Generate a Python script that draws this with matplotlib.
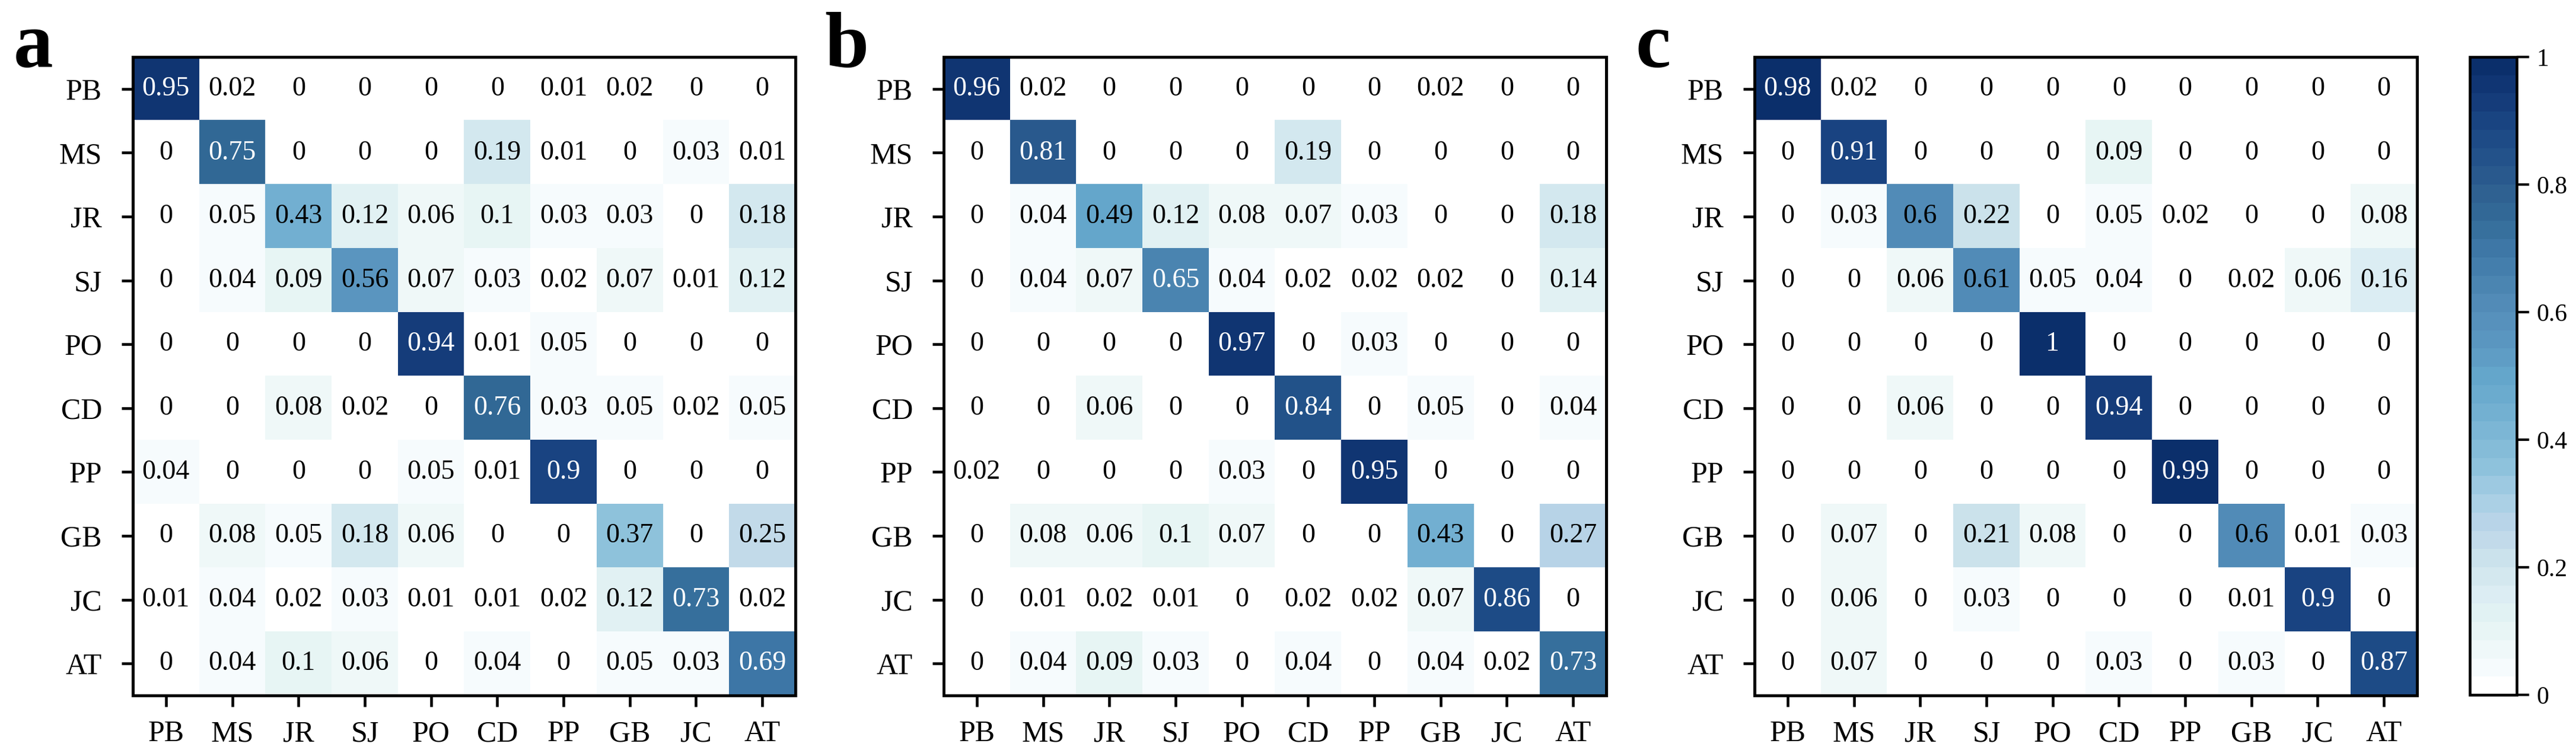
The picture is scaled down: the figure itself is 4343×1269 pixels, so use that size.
import numpy as np
import matplotlib
matplotlib.use("Agg")
import matplotlib.pyplot as plt
from matplotlib.colors import LinearSegmentedColormap

# class names (same order for rows and columns)
classes = ["PB", "MS", "JR", "SJ", "PO", "CD", "PP", "GB", "JC", "AT"]
panel_letters = ["a", "b", "c"]

# confusion matrix, panel a
cm_a = [
    [0.95, 0.02, 0, 0, 0, 0, 0.01, 0.02, 0, 0],
    [0, 0.75, 0, 0, 0, 0.19, 0.01, 0, 0.03, 0.01],
    [0, 0.05, 0.43, 0.12, 0.06, 0.1, 0.03, 0.03, 0, 0.18],
    [0, 0.04, 0.09, 0.56, 0.07, 0.03, 0.02, 0.07, 0.01, 0.12],
    [0, 0, 0, 0, 0.94, 0.01, 0.05, 0, 0, 0],
    [0, 0, 0.08, 0.02, 0, 0.76, 0.03, 0.05, 0.02, 0.05],
    [0.04, 0, 0, 0, 0.05, 0.01, 0.9, 0, 0, 0],
    [0, 0.08, 0.05, 0.18, 0.06, 0, 0, 0.37, 0, 0.25],
    [0.01, 0.04, 0.02, 0.03, 0.01, 0.01, 0.02, 0.12, 0.73, 0.02],
    [0, 0.04, 0.1, 0.06, 0, 0.04, 0, 0.05, 0.03, 0.69],
]

# confusion matrix, panel b
cm_b = [
    [0.96, 0.02, 0, 0, 0, 0, 0, 0.02, 0, 0],
    [0, 0.81, 0, 0, 0, 0.19, 0, 0, 0, 0],
    [0, 0.04, 0.49, 0.12, 0.08, 0.07, 0.03, 0, 0, 0.18],
    [0, 0.04, 0.07, 0.65, 0.04, 0.02, 0.02, 0.02, 0, 0.14],
    [0, 0, 0, 0, 0.97, 0, 0.03, 0, 0, 0],
    [0, 0, 0.06, 0, 0, 0.84, 0, 0.05, 0, 0.04],
    [0.02, 0, 0, 0, 0.03, 0, 0.95, 0, 0, 0],
    [0, 0.08, 0.06, 0.1, 0.07, 0, 0, 0.43, 0, 0.27],
    [0, 0.01, 0.02, 0.01, 0, 0.02, 0.02, 0.07, 0.86, 0],
    [0, 0.04, 0.09, 0.03, 0, 0.04, 0, 0.04, 0.02, 0.73],
]

# confusion matrix, panel c
cm_c = [
    [0.98, 0.02, 0, 0, 0, 0, 0, 0, 0, 0],
    [0, 0.91, 0, 0, 0, 0.09, 0, 0, 0, 0],
    [0, 0.03, 0.6, 0.22, 0, 0.05, 0.02, 0, 0, 0.08],
    [0, 0, 0.06, 0.61, 0.05, 0.04, 0, 0.02, 0.06, 0.16],
    [0, 0, 0, 0, 1, 0, 0, 0, 0, 0],
    [0, 0, 0.06, 0, 0, 0.94, 0, 0, 0, 0],
    [0, 0, 0, 0, 0, 0, 0.99, 0, 0, 0],
    [0, 0.07, 0, 0.21, 0.08, 0, 0, 0.6, 0.01, 0.03],
    [0, 0.06, 0, 0.03, 0, 0, 0, 0.01, 0.9, 0],
    [0, 0.07, 0, 0, 0, 0.03, 0, 0.03, 0, 0.87],
]

cbar_ticks = [0, 0.2, 0.4, 0.6, 0.8, 1]

# палитра: смесь GnBu и Blues, 35 ступеней как на шкале
anchors = [
    (0.00, "#ffffff"), (0.03, "#f6fbfd"), (0.10, "#e5f4f3"), (0.15, "#dbedf3"),
    (0.20, "#cde4ec"), (0.25, "#bed6e9"), (0.30, "#a9cfe5"), (0.35, "#8fc3dc"),
    (0.40, "#80b8d6"), (0.45, "#70aed0"), (0.50, "#64a6cb"), (0.55, "#5b97c1"),
    (0.60, "#568fbb"), (0.65, "#4a84b0"), (0.70, "#3f78a8"), (0.75, "#336c98"),
    (0.80, "#2f5f90"), (0.85, "#23538a"), (0.90, "#1b4784"), (0.95, "#143a78"),
    (1.00, "#0b2f6b"),
]
cmap = LinearSegmentedColormap.from_list("cm_blues", anchors, N=35)

plt.rcParams["font.family"] = ["Liberation Serif", "DejaVu Serif"]
plt.rcParams["mathtext.fontset"] = "stix"

W, H, DPI = 4343, 1269, 300
fig = plt.figure(figsize=(W / DPI, H / DPI), dpi=DPI)

lefts = [224, 1591, 2958]
ax_w, ax_top, ax_bot = 1117, 96, 1172

im = None
for cm, letter, left in zip([cm_a, cm_b, cm_c], panel_letters, lefts):
    data = np.array(cm, dtype=float)
    ax = fig.add_axes([left / W, 1 - ax_bot / H, ax_w / W, (ax_bot - ax_top) / H])
    im = ax.imshow(data, cmap=cmap, vmin=0, vmax=1, aspect="auto", interpolation="nearest")
    n = len(classes)
    for i in range(n):
        for j in range(n):
            v = data[i, j]
            ax.text(j, i, "{:g}".format(v), ha="center", va="center", fontsize=11,
                    color="white" if v > 0.62 else "black")
    ax.set_xticks(range(n))
    ax.set_yticks(range(n))
    ax.set_xticklabels(classes, fontsize=12)
    ax.set_yticklabels(classes, fontsize=12)
    ax.tick_params(axis="y", length=4.5, width=1.1, pad=8)
    ax.tick_params(axis="x", length=4.5, width=1.1, pad=5.5)
    for sp in ax.spines.values():
        sp.set_linewidth(1.2)
    fig.text((left - 201) / W, 1 - 113 / H, letter, fontsize=32, fontweight="bold",
             ha="left", va="baseline")

cax = fig.add_axes([4164 / W, 1 - 1171 / H, 79 / W, (1171 - 96) / H])
cb = fig.colorbar(im, cax=cax, ticks=cbar_ticks)
cb.ax.set_yticklabels(["{:g}".format(t) for t in cbar_ticks])
cb.ax.tick_params(length=5, width=1.0, labelsize=10, pad=3)
cb.outline.set_linewidth(1.1)

fig.savefig("out.png", dpi=DPI)
